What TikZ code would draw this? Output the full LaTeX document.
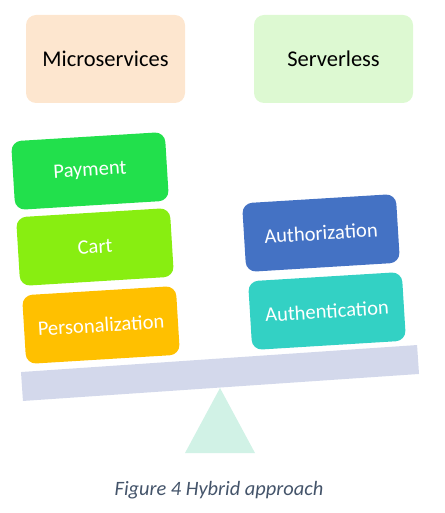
\documentclass[tikz,border=0pt]{standalone}
\usepackage{fontspec}
\setmainfont{Carlito}
\usepackage{xcolor}
\usepackage{tikz}
\definecolor{microcolor}{HTML}{FDE6CF}
\definecolor{serverlesscolor}{HTML}{DDF9D2}
\definecolor{paymentcolor}{HTML}{22E04C}
\definecolor{cartcolor}{HTML}{88EE11}
\definecolor{personalcolor}{HTML}{FFC000}
\definecolor{authzcolor}{HTML}{4472C4}
\definecolor{authncolor}{HTML}{33D1C4}
\definecolor{beamcolor}{HTML}{D3D8EB}
\definecolor{fulcrumcolor}{HTML}{D1F2E6}
\definecolor{captioncolor}{HTML}{44546A}
\tikzset{
  headbox/.style={rectangle, rounded corners=0.25cm, minimum width=3.975cm, minimum height=2.2cm, font=\fontsize{16pt}{19pt}\selectfont},
  servicebox/.style={rectangle, rounded corners=0.25cm, minimum width=3.85cm, minimum height=1.72cm, rotate=3.5, text=white, font=\fontsize{14.6pt}{17pt}\selectfont},
}

\begin{document}
\begin{tikzpicture}%
\useasboundingbox (0,0) rectangle (11.1,-12.825);%
% column headings
\node[headbox, fill=microcolor] (micro) at (2.6375,-1.475) {Microservices};%
\node[headbox, fill=serverlesscolor] (serverless) at (8.3375,-1.475) {Serverless};%
% left pan
\node[servicebox, fill=paymentcolor] (payment) at (2.25,-4.275) {Payment};%
\node[servicebox, fill=cartcolor] (cart) at (2.375,-6.175) {Cart};%
\node[servicebox, fill=personalcolor] (personal) at (2.525,-8.125) {Personalization};%
% right pan
\node[servicebox, fill=authzcolor] (authz) at (8.025,-5.825) {Authorization};%
\node[servicebox, fill=authncolor] (authn) at (8.175,-7.775) {Authentication};%
% beam and fulcrum
\node[rectangle, fill=beamcolor, minimum width=9.925cm, minimum height=0.725cm, rotate=3.9] (beam) at (5.5,-9.325) {};%
\coordinate (apex) at (5.5,-9.7);%
\coordinate (baseleft) at (4.625,-11.325);%
\coordinate (baseright) at (6.375,-11.325);%
\fill[fulcrumcolor] (apex) -- (baseleft) -- (baseright) -- cycle;%
\node[text=captioncolor, font=\fontsize{14.5pt}{17pt}\selectfont\itshape] (caption) at (5.475,-12.25) {Figure 4 Hybrid approach};%
\end{tikzpicture}
\end{document}
